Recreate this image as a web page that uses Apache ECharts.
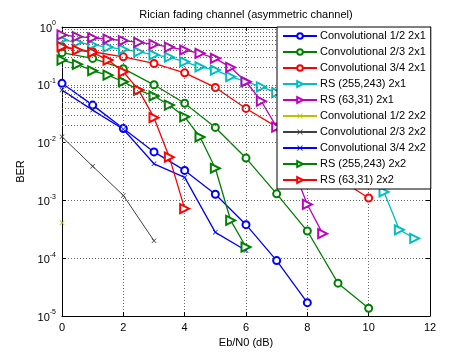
<!DOCTYPE html>
<html>
<head>
<meta charset="utf-8">
<script src="https://cdn.jsdelivr.net/npm/echarts@6/dist/echarts.min.js"></script>
<style>
  html, body { margin: 0; padding: 0; background: #fff; }
  #chart { width: 474px; height: 354px; }
</style>
</head>
<body>
<div id="chart"></div>
<script>
var FONT = 'Liberation Sans, Arial, Helvetica, sans-serif';

// Eb/N0 grids (dB)
var ebStep1 = [0, 1, 2, 3, 4, 5, 6, 7, 8, 9, 10];
var ebStepHalf = [0, 0.5, 1, 1.5, 2, 2.5, 3, 3.5, 4, 4.5, 5, 5.5, 6, 6.5, 7, 7.5, 8, 8.5, 9, 9.5, 10, 10.5, 11, 11.5];

// BER values
var conv12_2x1 = [0.106, 0.0445, 0.0175, 0.0069, 0.0033, 0.00128, 3.8e-4, 9.1e-5, 1.7e-5];
var conv23_2x1 = [0.36, 0.286, 0.19, 0.10, 0.048, 0.0183, 0.0054, 0.0013, 2.95e-4, 3.7e-5, 1.36e-5];
var conv34_2x1 = [0.456, 0.373, 0.305, 0.234, 0.161, 0.090, 0.039, 0.0187, 0.0075, 0.0024, 0.0011];
var rs255_2x1 = [0.60, 0.543, 0.49, 0.45, 0.41, 0.37, 0.33, 0.30, 0.25, 0.205, 0.18, 0.138, 0.113, 0.092, 0.073,
  0.058, 0.045, 0.033, 0.021, 0.011, 0.004, 0.0014, 3.1e-4, 2.2e-4];
var rs63_2x1 = [0.73, 0.68, 0.65, 0.62, 0.58, 0.54, 0.50, 0.45, 0.40, 0.35, 0.287, 0.20, 0.113, 0.052, 0.0185,
  0.004, 8.5e-4, 2.66e-4];
var conv12_2x2 = [4.1e-4];
var conv23_2x2 = [0.0126, 0.0039, 0.00122, 2.0e-4];
var conv34_2x2 = [0.081, 0.0365, 0.017, 0.0043, 0.0025, 2.8e-4, 1.36e-4];
var rs255_2x2 = [0.268, 0.226, 0.175, 0.147, 0.113, 0.081, 0.064, 0.0445, 0.0279, 0.0125, 0.0036, 4.5e-4, 1.56e-4];
var rs63_2x2 = [0.456, 0.40, 0.365, 0.268, 0.168, 0.081, 0.027, 0.0056, 7.2e-4];

var xTicks = [0, 2, 4, 6, 8, 10, 12];

function pairs(xs, ys) {
  return ys.map(function (y, i) { return [xs[i], y]; });
}

// minor grid lines of the log axis (2..9 x 10^k)
var minorLines = [];
for (var k = -5; k < 0; k++) {
  for (var m = 2; m <= 9; m++) {
    minorLines.push({ yAxis: m * Math.pow(10, k) });
  }
}

var CROSS = 'path://M0,1L1,0L5,4L9,0L10,1L6,5L10,9L9,10L5,6L1,10L0,9L4,5Z';

function mkSeries(name, data, color, kind, width) {
  var s = {
    name: name,
    type: 'line',
    data: data,
    xAxisIndex: 0,
    yAxisIndex: 0,
    z: 3,
    lineStyle: { color: color, width: width || 1.3 },
    itemStyle: { color: color, borderColor: color, borderWidth: 1.2 }
  };
  if (kind === 'o') {
    s.symbol = 'emptyCircle';
    s.symbolSize = 7;
  } else if (kind === '>') {
    s.symbol = 'emptyTriangle';
    s.symbolSize = 9;
    s.symbolRotate = -90;
  } else {
    s.symbol = CROSS;
    s.symbolSize = 5;
    s.itemStyle.borderWidth = 0;
  }
  return s;
}

var names = [
  'Convolutional 1/2 2x1', 'Convolutional 2/3 2x1', 'Convolutional 3/4 2x1',
  'RS (255,243) 2x1', 'RS (63,31) 2x1',
  'Convolutional 1/2 2x2', 'Convolutional 2/3 2x2', 'Convolutional 3/4 2x2',
  'RS (255,243) 2x2', 'RS (63,31) 2x2'
];

var series = [
  {
    name: 'grid',
    type: 'line',
    data: [],
    silent: true,
    z: 1,
    markLine: {
      silent: true,
      symbol: ['none', 'none'],
      label: { show: false },
      lineStyle: { color: '#666', width: 1, type: [1, 2] },
      data: minorLines
    }
  },
  mkSeries(names[0], pairs(ebStep1, conv12_2x1), '#0000ff', 'o'),
  mkSeries(names[1], pairs(ebStep1, conv23_2x1), '#008000', 'o'),
  mkSeries(names[2], pairs(ebStep1, conv34_2x1), '#ff0000', 'o'),
  mkSeries(names[3], pairs(ebStepHalf, rs255_2x1), '#00bfbf', '>'),
  mkSeries(names[4], pairs(ebStepHalf, rs63_2x1), '#bf00bf', '>'),
  mkSeries(names[5], pairs(ebStep1, conv12_2x2), '#bfbf00', 'x'),
  mkSeries(names[6], pairs(ebStep1, conv23_2x2), '#404040', 'x', 1),
  mkSeries(names[7], pairs(ebStep1, conv34_2x2), '#0000ff', 'x'),
  mkSeries(names[8], pairs(ebStepHalf, rs255_2x2), '#008000', '>'),
  mkSeries(names[9], pairs(ebStepHalf, rs63_2x2), '#ff0000', '>')
];

var dotted = { color: '#666', width: 1, type: [1, 2] };

var option = {
  backgroundColor: '#fff',
  animation: false,
  textStyle: { fontFamily: FONT },
  title: {
    text: 'Rician fading channel (asymmetric channel)',
    left: 246,
    top: 9,
    padding: 0,
    textAlign: 'center',
    textStyle: { fontFamily: FONT, fontSize: 11, fontWeight: 'normal', color: '#000' }
  },
  grid: { left: 62, right: 44, top: 27, bottom: 38, containLabel: false },
  legend: {
    data: names,
    orient: 'vertical',
    left: 277,
    top: 27,
    padding: [3, 5, 3, 5],
    itemWidth: 34,
    itemHeight: 7,
    itemGap: 4,
    backgroundColor: '#fff',
    borderColor: '#000',
    borderWidth: 1,
    borderRadius: 0,
    z: 10,
    textStyle: { fontFamily: FONT, fontSize: 11, color: '#000', lineHeight: 12, padding: [0, 0, 0, -2] }
  },
  xAxis: [{
    type: 'value',
    min: 0,
    max: 12,
    interval: 2,
    name: 'Eb/N0 (dB)',
    nameLocation: 'middle',
    nameGap: 18,
    nameTextStyle: { fontFamily: FONT, fontSize: 11, color: '#000' },
    axisLine: { show: true, lineStyle: { color: '#000', width: 1 } },
    axisTick: { show: true, inside: true, length: 4, lineStyle: { color: '#000' } },
    axisLabel: {
      margin: 6, fontFamily: FONT, fontSize: 11, color: '#000',
      formatter: function (v) { return xTicks.indexOf(v) >= 0 ? String(v) : ''; }
    },
    splitLine: { show: true, lineStyle: dotted }
  }, {
    type: 'value',
    position: 'top',
    min: 0,
    max: 12,
    interval: 2,
    axisLine: { show: true, onZero: false, lineStyle: { color: '#000', width: 1 } },
    axisTick: { show: true, inside: true, length: 4, lineStyle: { color: '#000' } },
    axisLabel: { show: false },
    splitLine: { show: false }
  }],
  yAxis: [{
    type: 'log',
    logBase: 10,
    min: 1e-5,
    max: 1,
    name: 'BER',
    nameLocation: 'middle',
    nameGap: 29,
    nameTextStyle: { fontFamily: FONT, fontSize: 11, color: '#000' },
    axisLine: { show: true, lineStyle: { color: '#000', width: 1 } },
    axisTick: { show: true, inside: true, length: 4, lineStyle: { color: '#000' } },
    axisLabel: {
      margin: 6,
      formatter: function (v) {
        var e = Math.round(Math.log10(v));
        return '{b|10}{s|' + e + '}';
      },
      rich: {
        b: { fontFamily: FONT, fontSize: 11, color: '#000', lineHeight: 14, verticalAlign: 'bottom' },
        s: { fontFamily: FONT, fontSize: 7, color: '#000', lineHeight: 14, verticalAlign: 'top' }
      }
    },
    splitLine: { show: true, lineStyle: dotted }
  }, {
    type: 'log',
    logBase: 10,
    min: 1e-5,
    max: 1,
    position: 'right',
    axisLine: { show: true, onZero: false, lineStyle: { color: '#000', width: 1 } },
    axisTick: { show: true, inside: true, length: 4, lineStyle: { color: '#000' } },
    axisLabel: { show: false },
    splitLine: { show: false }
  }],
  series: series
};

var chart = echarts.init(document.getElementById('chart'), null, { renderer: 'canvas' });
chart.setOption(option);
</script>
</body>
</html>
